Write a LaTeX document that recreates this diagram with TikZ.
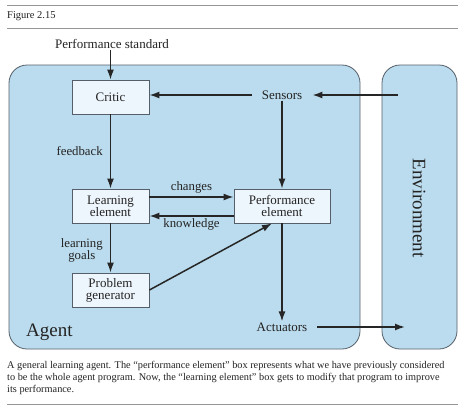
\documentclass[tikz,border=0pt]{standalone}
\usepackage{fontspec}
\setmainfont{Liberation Serif}
\usetikzlibrary{arrows.meta}
\definecolor{agentfill}{RGB}{187,220,238}
\definecolor{boxfill}{RGB}{238,246,253}
\definecolor{edgegray}{RGB}{85,95,105}
\definecolor{txt}{RGB}{35,35,35}
\definecolor{rulegray}{RGB}{150,150,150}
\begin{document}
\begin{tikzpicture}[x=1pt,y=-1pt,
  every node/.style={text=txt},
  compbox/.style={draw=edgegray,fill=boxfill,line width=0.8pt,minimum width=77pt,minimum height=34pt,align=center,font=\fontsize{13}{13}\selectfont,inner sep=1pt},
  lbl/.style={font=\fontsize{12.8}{13}\selectfont,align=center,inner sep=1pt},
  conn/.style={-{Latex[length=10pt,width=7pt]},line width=1.5pt,draw=black!85},
  region/.style={draw=edgegray,fill=agentfill,line width=0.8pt,rounded corners=18pt}
]
\useasboundingbox (0,0) rectangle (474,410);
\fill[white] (0,0) rectangle (474,410);
% rules
\draw[rulegray,line width=0.8pt] (7,5) -- (458,5);
\draw[rulegray,line width=0.8pt] (7,28) -- (458,28);
\draw[rulegray,line width=0.8pt] (7,404) -- (458,404);
\node[anchor=west,inner sep=0,font=\fontsize{10.5}{12}\selectfont] (fig) at (7,16) {Figure 2.15};
% regions
\draw[region] (9,65) rectangle (360,349);
\draw[region] (382,65) rectangle (457,349);
\node[inner sep=0,font=\fontsize{19}{20}\selectfont,anchor=west] (agent) at (26,332) {Agent};
\node[inner sep=0,font=\fontsize{19}{20}\selectfont,rotate=-90] (env) at (419,208) {Environment};
% nodes
\node[lbl,font=\fontsize{13}{13}\selectfont] (ps) at (112,44) {Performance standard};
\node[compbox] (critic) at (110.5,97) {Critic};
\node[compbox] (learn) at (110.5,206) {Learning\\[-1pt]element};
\node[compbox] (prob) at (110.5,290) {Problem\\[-1pt]generator};
\node[compbox,minimum width=96pt] (perf) at (282,206) {Performance\\[-1pt]element};
\node[lbl,font=\fontsize{13}{13}\selectfont,inner xsep=10pt] (sens) at (282,95) {Sensors};
\node[lbl,font=\fontsize{13}{13}\selectfont,inner xsep=10pt] (act) at (282,327) {Actuators};
\coordinate (envin) at (398,95);
\coordinate (envout) at (405,327);
% connectors
\draw[conn] (ps.south -| critic.north) -- (critic.north);
\draw[conn] (envin) -- (sens.east);
\draw[conn] (sens.west) -- (critic.east |- sens.west);
\draw[conn] (critic) -- node[lbl,left=6pt,pos=0.5] {feedback} (learn);
\draw[conn] (sens) -- (perf);
\draw[conn] ([yshift=9pt]learn.east) -- node[lbl,above=2pt] {changes} ([yshift=9pt]perf.west);
\draw[conn] ([yshift=-10pt]perf.west) -- node[lbl,below=1pt] {knowledge} ([yshift=-10pt]learn.east);
\draw[conn] (learn) -- node[lbl,left=6pt,pos=0.55,font=\fontsize{12.8}{12.5}\selectfont] {learning\\goals} (prob);
\draw[conn] (prob.east) -- ([xshift=-10pt]perf.south);
\draw[conn] (perf) -- (act);
\draw[conn] (act.east) -- (envout);
% caption
\node[anchor=north west,inner sep=0,align=left,font=\fontsize{10.3}{12}\selectfont] (cap) at (7,361) {A general learning agent. The ``performance element'' box represents what we have previously considered\\to be the whole agent program. Now, the ``learning element'' box gets to modify that program to improve\\its performance.};
\end{tikzpicture}
\end{document}
